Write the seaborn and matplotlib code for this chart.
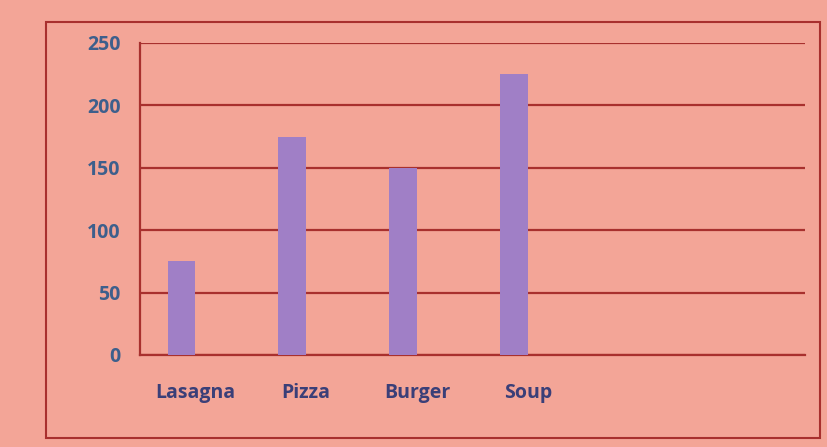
import pandas as pd
import numpy as np
import matplotlib
matplotlib.use('Agg')
import matplotlib.pyplot as plt
import seaborn as sns
from matplotlib.patches import Rectangle

# data
dishes = ['Lasagna', 'Pizza', 'Burger', 'Soup']
counts = [75, 175, 150, 225]
# the chart keeps two empty category slots on the right
slots = dishes + ['', ' ']
y_ticks = [0, 50, 100, 150, 200, 250]
# second (empty) series pushes the bars left of the slot centre, like the original
series = ['Series1', 'Series2']

df = pd.DataFrame({'dish': dishes, 'count': counts, 'series': series[0]})

bg = '#f3a597'
bar_color = '#a07fc6'
line_color = '#a8302e'

sns.set_style('white')
plt.rcParams['font.family'] = ['Open Sans', 'DejaVu Sans']

fig = plt.figure(figsize=(8.28, 4.47), dpi=100, facecolor=bg)
ax = fig.add_axes([0.169, 0.206, 0.803, 0.698])
ax.set_facecolor(bg)

sns.barplot(data=df, x='dish', y='count', order=slots, hue='series',
            hue_order=series, palette=[bar_color, bar_color], dodge=True,
            width=0.5, saturation=1, linewidth=0, legend=False, ax=ax, zorder=3)

ax.set_ylim(0, 250)
ax.set_xlim(-0.5, len(slots) - 0.5)
ax.set_yticks(y_ticks)
ax.set_yticklabels([str(t) for t in y_ticks], color='#3d5f8c',
                   fontsize=14, fontweight='bold')
ax.tick_params(axis='y', length=6, color=line_color, width=1.5, pad=8)
ax.set_xticks(range(len(slots)))
ax.set_xticklabels(slots, color='#3a3f78', fontsize=14, fontweight='bold')
ax.tick_params(axis='x', length=0, pad=20)
ax.set_xticks(np.arange(0.5, len(slots) - 0.5, 1), minor=True)
ax.tick_params(axis='x', which='minor', length=6, color=line_color, width=1.5)

ax.grid(axis='y', color=line_color, linewidth=1.6, zorder=1)
ax.set_axisbelow(True)
for side in ['top', 'right']:
    ax.spines[side].set_visible(False)
for side in ['left', 'bottom']:
    ax.spines[side].set_color(line_color)
    ax.spines[side].set_linewidth(1.6)
ax.set_xlabel('')
ax.set_ylabel('')

# outer chart border
fig.patches.append(Rectangle((0.055, 0.02), 0.935, 0.93, transform=fig.transFigure,
                             fill=False, edgecolor=line_color, linewidth=1.5))

fig.savefig('out.png', dpi=100, facecolor=bg)
